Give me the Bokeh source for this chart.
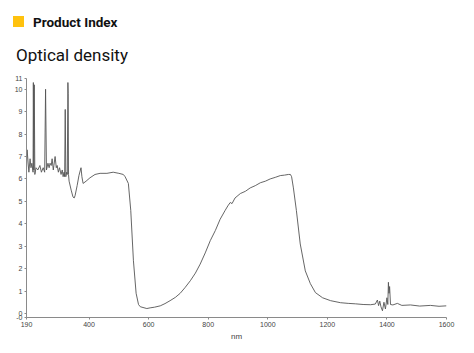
from bokeh.plotting import figure
from bokeh.models import Range1d, FixedTicker, Div
from bokeh.layouts import column
from bokeh.embed import file_html
from bokeh.resources import INLINE

# Data: wavelength (nm) and optical density
wavelength_nm = [190, 192, 195, 198, 202, 205, 208, 212, 213, 214.5, 216, 218, 222, 228, 235, 240,
                 246, 251, 254, 257, 262, 266, 269, 273, 276, 280, 282, 286, 290, 293, 297, 301,
                 306, 310, 313, 316, 318, 320, 322, 325, 327, 329, 330, 331, 333, 340, 346, 350,
                 353, 360, 366, 373, 376, 380, 390, 403, 420, 437, 460, 481, 500, 515, 521, 532,
                 540, 549, 558, 566, 572, 594, 605, 620, 639, 655, 672, 690, 706, 722,
                 740, 757, 773, 790, 807, 824, 840, 857, 866, 874, 880, 890, 908, 925, 941, 958,
                 975, 992, 1008, 1025, 1042, 1056, 1069, 1076, 1080, 1086, 1096, 1109, 1126, 1143,
                 1160, 1184, 1211, 1244, 1270, 1294, 1320, 1345, 1361, 1368, 1372, 1376, 1380, 1385,
                 1390, 1395, 1400, 1403, 1405, 1407, 1409, 1412, 1420, 1435, 1450, 1479, 1510, 1546,
                 1575, 1600]
optical_density = [6.4, 7.3, 6.8, 6.3, 6.9, 6.5, 6.7, 6.3, 10.3, 6.4, 10.2, 6.2, 6.5, 6.4, 6.6, 6.3,
                   6.5, 6.3, 10.0, 6.4, 6.7, 6.5, 6.7, 6.6, 6.9, 6.4, 6.6, 7.0, 6.5, 6.6, 6.3, 6.5,
                   6.2, 6.4, 6.1, 6.3, 6.1, 9.1, 6.1, 6.3, 6.2, 10.3, 9.8, 6.2, 5.9, 5.5, 5.2, 5.15,
                   5.25, 5.7, 6.15, 6.5, 6.1, 5.8, 5.9, 6.05, 6.2, 6.25, 6.25, 6.3, 6.25, 6.2, 6.1, 5.8,
                   4.6, 2.35, 0.9, 0.4, 0.3, 0.22, 0.25, 0.28, 0.34, 0.44, 0.57, 0.72, 0.9, 1.15,
                   1.46, 1.8, 2.2, 2.7, 3.25, 3.7, 4.2, 4.6, 4.8, 4.95, 4.9, 5.15, 5.35, 5.45, 5.6, 5.7,
                   5.83, 5.9, 6.0, 6.07, 6.15, 6.17, 6.2, 6.2, 6.1, 5.6, 4.6, 3.1, 1.9, 1.33,
                   0.93, 0.7, 0.57, 0.48, 0.45, 0.43, 0.4, 0.39, 0.42, 0.6, 0.35, 0.55, 0.3, 0.12,
                   0.5, 0.2, 0.7, 0.4, 1.39, 0.9, 1.2, 0.4, 0.38, 0.45, 0.36, 0.38, 0.33, 0.36,
                   0.32, 0.34]

x_ticks = [190, 400, 600, 800, 1000, 1200, 1400, 1600]
y_ticks = [-0.18, 0, 1, 2, 3, 4, 5, 6, 7, 8, 9, 10, 10.48]
y_tick_labels = ["-0", "0", "1", "2", "3", "4", "5", "6", "7", "8", "9", "10", "11"]

W, H = 474, 353
HEADER_H = 72
LEFT, RIGHT, TOP, BOTTOM = 26, 28, 6, 36

header = Div(
    width=W, height=HEADER_H, margin=0,
    text=(
        '<div style="position:relative;width:474px;height:72px;">'
        '<div style="position:absolute;left:13px;top:16px;width:11px;height:11px;background:#FFC20E;"></div>'
        '<div style="position:absolute;left:33px;top:13px;font-family:Roboto;font-weight:700;'
        'font-size:13.5px;line-height:18px;color:#111;white-space:nowrap;">Product Index</div>'
        '<div style="position:absolute;left:16px;top:44px;font-family:Roboto;font-weight:400;'
        'font-size:17px;line-height:22px;color:#111;white-space:nowrap;">Optical density</div>'
        '</div>'
    ),
)

p = figure(width=W, height=H - HEADER_H, output_backend="svg", toolbar_location=None,
           x_range=Range1d(190, 1600), y_range=Range1d(-0.18, 10.48),
           min_border_left=LEFT, min_border_right=RIGHT,
           min_border_top=TOP, min_border_bottom=BOTTOM, margin=0)
p.outline_line_color = None
p.xgrid.visible = False
p.ygrid.visible = False

p.line(wavelength_nm, optical_density, line_color="#555555", line_width=0.9)

for ax in (p.xaxis[0], p.yaxis[0]):
    ax.axis_line_color = "#8a8a8a"
    ax.axis_line_width = 1
    ax.major_tick_line_color = "#8a8a8a"
    ax.major_tick_out = 2
    ax.major_tick_in = 0
    ax.minor_tick_line_color = None
    ax.major_label_text_font = "Liberation Sans"
    ax.major_label_text_font_size = "7px"
    ax.major_label_text_color = "#444444"
    ax.major_label_standoff = 2

p.xaxis[0].ticker = FixedTicker(ticks=x_ticks)
p.yaxis[0].ticker = FixedTicker(ticks=y_ticks)
p.yaxis[0].major_label_overrides = {t: l for t, l in zip(y_ticks, y_tick_labels)}
p.xaxis[0].axis_label = "nm"
p.xaxis[0].axis_label_text_font = "Liberation Sans"
p.xaxis[0].axis_label_text_font_size = "8px"
p.xaxis[0].axis_label_text_font_style = "normal"
p.xaxis[0].axis_label_text_color = "#444444"
p.xaxis[0].axis_label_standoff = 2

layout = column(header, p, margin=0, spacing=0)
open("out.html", "w").write(file_html(layout, INLINE))
